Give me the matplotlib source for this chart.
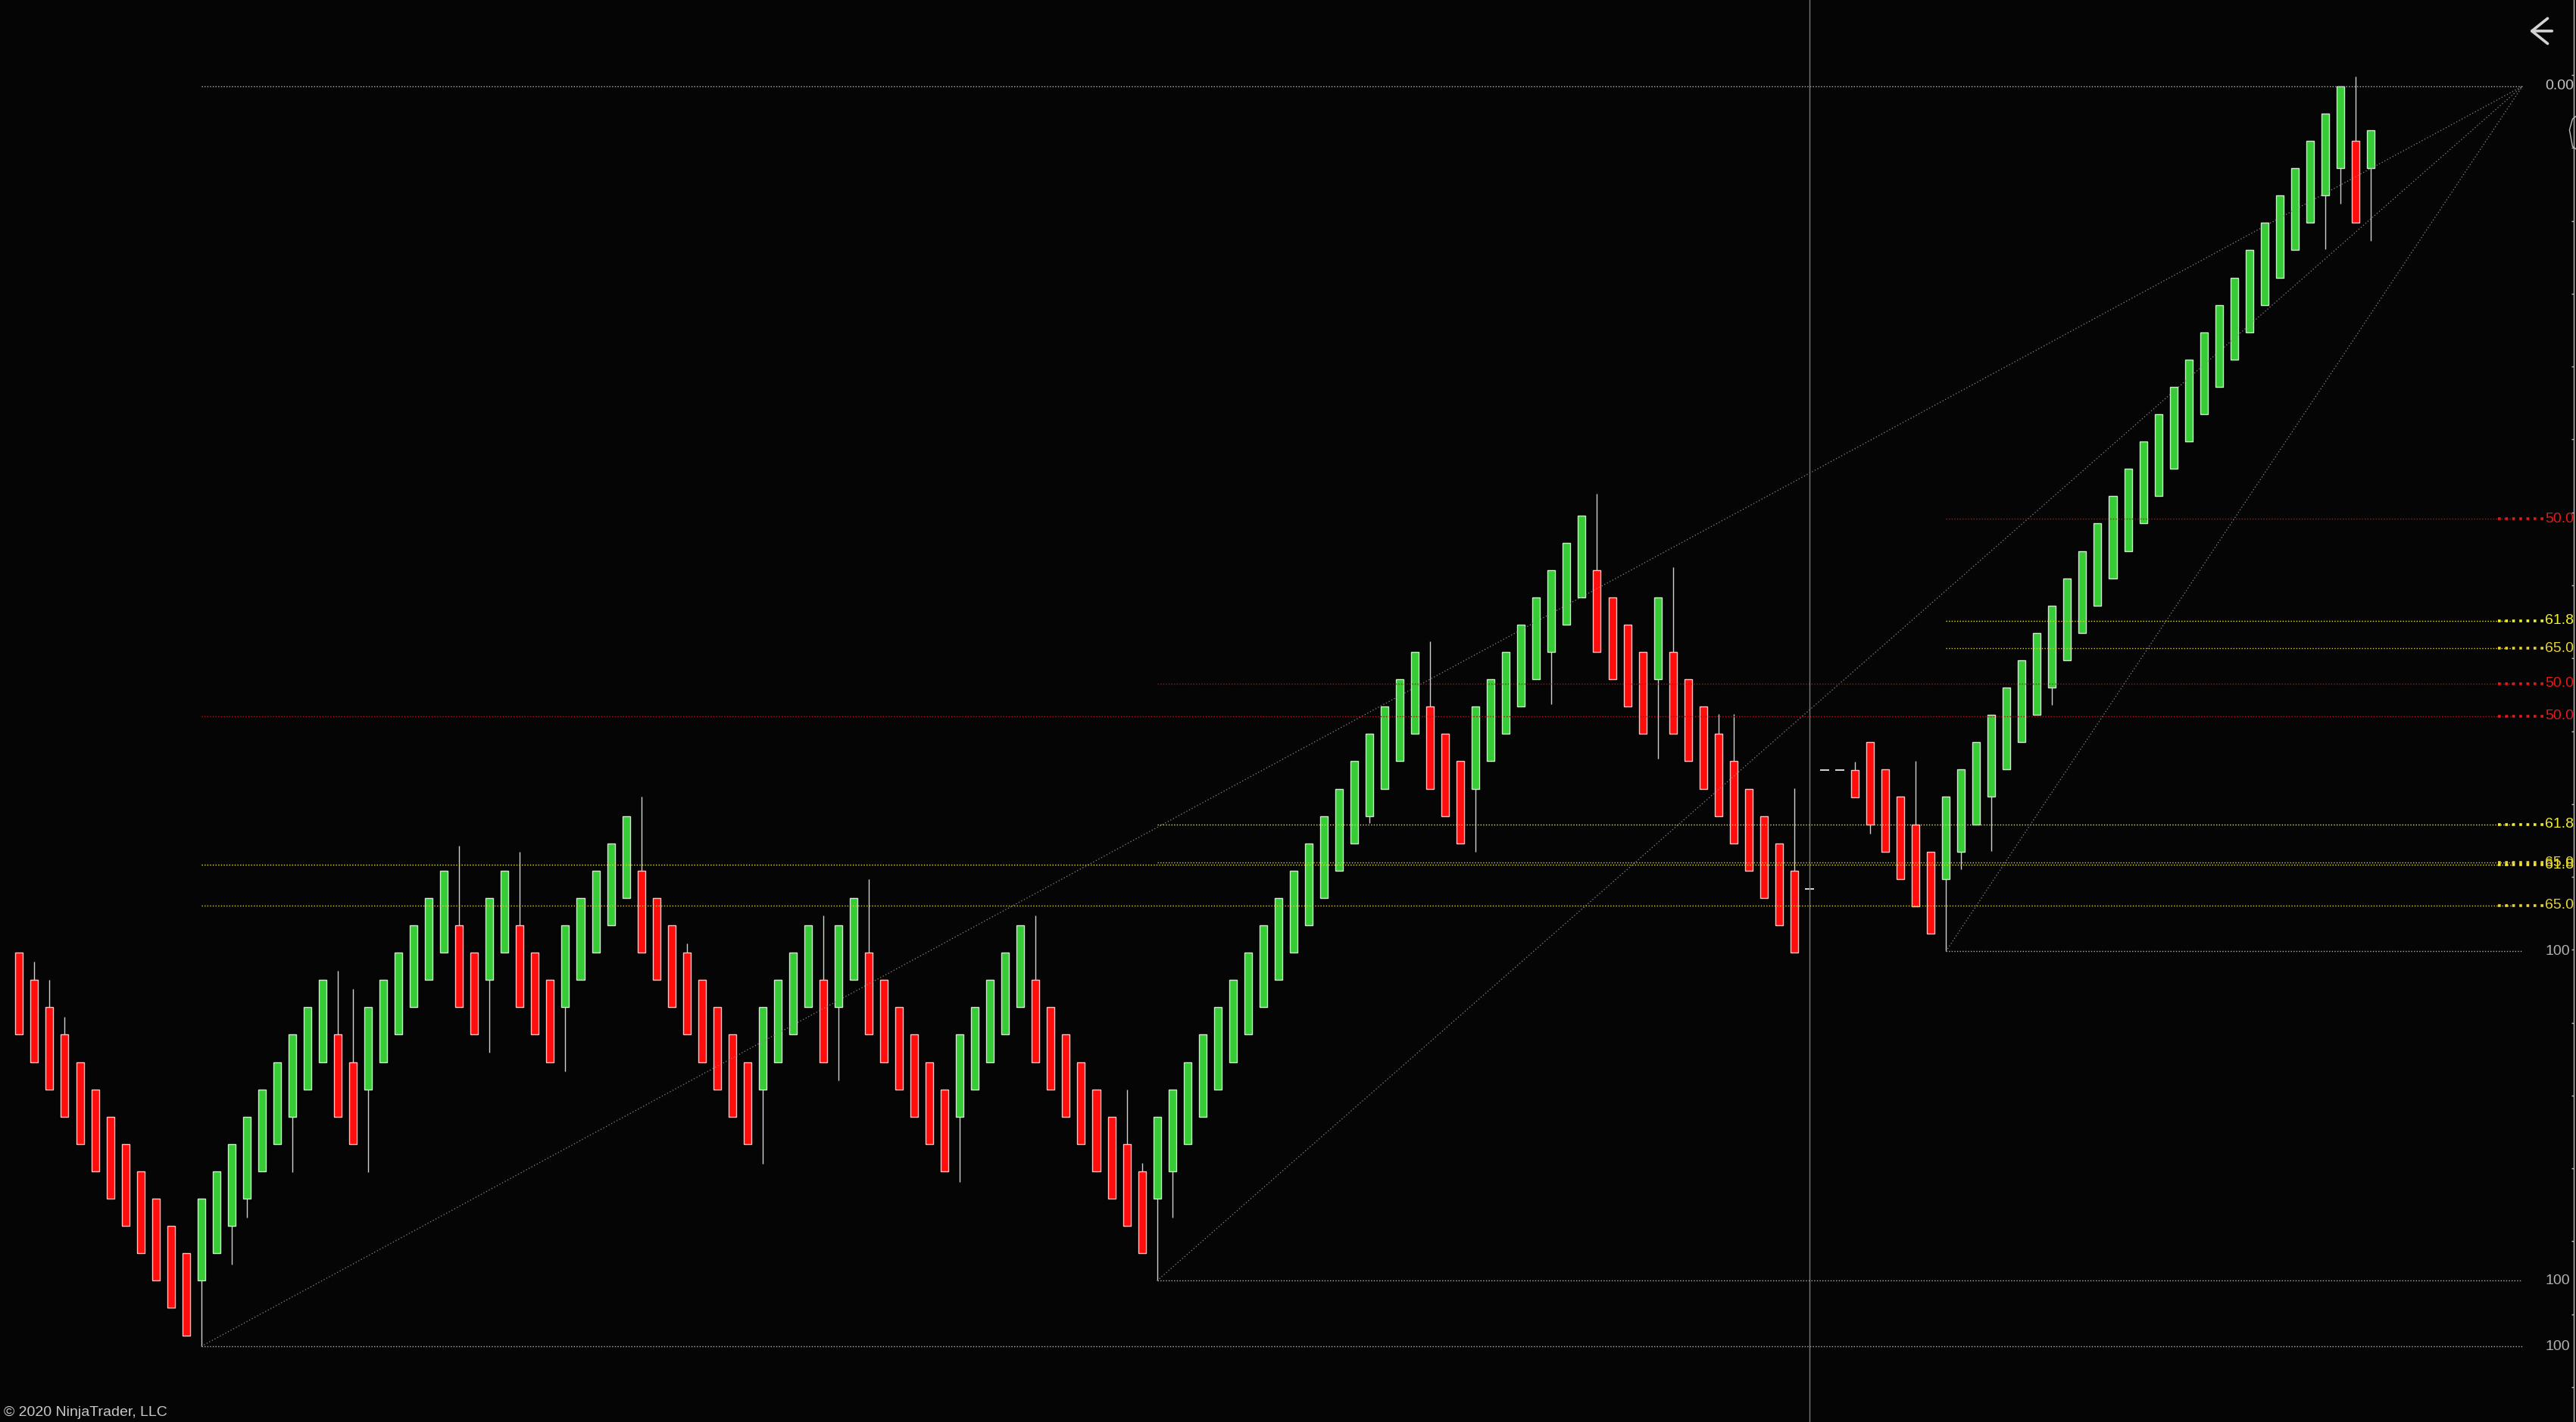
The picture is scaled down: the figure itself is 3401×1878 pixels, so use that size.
import numpy as np
import matplotlib
matplotlib.use("Agg")
import matplotlib.pyplot as plt

# Briques (renko) : ouverture / clôture en niveaux de prix, barre n° 1..156
opens = [14, 13, 12, 11, 10, 9, 8, 7, 6, 5, 4, 3,
         2, 3, 4, 5, 6, 7, 8, 9, 10,
         11, 10,
         9, 10, 11, 12, 13, 14,
         15, 14, 13, 14, 15, 14, 13,
         12, 13, 14, 15, 16,
         17, 16, 15, 14, 13, 12, 11, 10,
         9, 10, 11, 12, 13, 12, 13,
         14, 13, 12, 11, 10, 9,
         8, 9, 10, 11, 12,
         13, 12, 11, 10, 9, 8, 7, 6,
         5, 6, 7, 8, 9, 10, 11, 12, 13, 14, 15, 16, 17, 18, 19, 20, 21, 22,
         23, 22, 21,
         20, 21, 22, 23, 24, 25, 26, 27,
         28, 27, 26, 25, 24,
         25, 24, 23, 22, 21, 20, 19, 18, 17,
         16.33, 20.68, 20.68, 20.68,
         21.7, 20.7, 19.7, 18.7, 17.7,
         16.7, 17.7, 18.7, 19.7, 20.7, 21.7, 22.7, 23.7, 24.7, 25.7, 26.7, 27.7, 28.7,
         29.7, 30.7, 31.7, 32.7, 33.7, 34.7, 35.7, 36.7, 37.7, 38.7, 39.7, 40.7, 41.7, 42.7,
         43.7, 42.7]
closes = [11, 10, 9, 8, 7, 6, 5, 4, 3, 2, 1, 0,
          5, 6, 7, 8, 9, 10, 11, 12, 13,
          8, 7,
          12, 13, 14, 15, 16, 17,
          12, 11, 16, 17, 12, 11, 10,
          15, 16, 17, 18, 19,
          14, 13, 12, 11, 10, 9, 8, 7,
          12, 13, 14, 15, 10, 15, 16,
          11, 10, 9, 8, 7, 6,
          11, 12, 13, 14, 15,
          10, 9, 8, 7, 6, 5, 4, 3,
          8, 9, 10, 11, 12, 13, 14, 15, 16, 17, 18, 19, 20, 21, 22, 23, 24, 25,
          20, 19, 18,
          23, 24, 25, 26, 27, 28, 29, 30,
          25, 24, 23, 22, 27,
          22, 21, 20, 19, 18, 17, 16, 15, 14,
          16.33, 20.68, 20.68, 19.68,
          18.7, 17.7, 16.7, 15.7, 14.7,
          19.7, 20.7, 21.7, 22.7, 23.7, 24.7, 25.7, 26.7, 27.7, 28.7, 29.7, 30.7, 31.7,
          32.7, 33.7, 34.7, 35.7, 36.7, 37.7, 38.7, 39.7, 40.7, 41.7, 42.7, 43.7, 44.7, 45.7,
          40.7, 44.08]

# mèches qui dépassent le corps
wick_top = {2: 13.68, 3: 13.0, 4: 11.64, 22: 13.34, 23: 12.67, 30: 17.9, 34: 17.7,
            42: 19.7, 45: 14.35, 54: 15.36, 57: 16.7, 68: 15.35, 74: 9.0, 75: 6.3,
            94: 25.4, 105: 30.8, 110: 28.1, 113: 22.74, 114: 22.74, 118: 20.03,
            122: 20.99, 126: 21.0, 155: 46.05}
wick_bottom = {13: -0.4, 15: 2.6, 16: 4.3, 19: 5.97, 24: 5.97, 32: 10.34, 37: 9.67,
               50: 6.29, 55: 9.33, 63: 5.6, 76: 2.0, 77: 4.3, 90: 18.73, 97: 17.7,
               102: 23.1, 109: 21.1, 123: 18.35, 128: 14.05, 129: 17.05, 131: 17.73,
               135: 23.07, 153: 39.75, 154: 41.4, 156: 40.05}

# Retracements de Fibonacci (ancre basse -> ancre haute commune)
fib_start_bar = [13, 76, 128]
fib_low = [-0.4, 2.0, 14.05]
fib_end_bar = 166
fib_high = 45.7
fib_ratios = [0.5, 0.618, 0.65]
fib_labels = ["50.0", "61.8", "65.0"]
fib_colors = ["#e41a1a", "#f2ef2a", "#e8d23a"]
fib_line_colors = ["#b01414", "#e6e23a", "#dccb48"]

# barre du curseur
crosshair_bar = 119

# ---------------------------------------------------------------
opens = np.array(opens, dtype=float)
closes = np.array(closes, dtype=float)
n = len(opens)
bars = np.arange(1, n + 1)
highs = np.maximum(opens, closes)
lows = np.minimum(opens, closes)
for b, v in wick_top.items():
    highs[b - 1] = max(highs[b - 1], v)
for b, v in wick_bottom.items():
    lows[b - 1] = min(lows[b - 1], v)

bg = "#050505"
fig = plt.figure(figsize=(34.01, 18.78), dpi=100, facecolor=bg)
ax = fig.add_axes([0, 0, 1, 1])
ax.set_facecolor(bg)
ax.set_xlim(-0.268, 169.53)
ax.set_ylim(-3.169, 48.853)
ax.axis("off")

up = closes > opens
down = closes < opens
flat = closes == opens

# mèches
ax.vlines(bars, lows, highs, color="#d0d0d0", lw=1.0, zorder=2)

# corps
w = 0.5
ax.bar(bars[up], (closes - opens)[up], bottom=opens[up], width=w,
       color="#36cc36", edgecolor="#cfe8cf", linewidth=1.0, zorder=3)
ax.bar(bars[down], (opens - closes)[down], bottom=closes[down], width=w,
       color="#ff0c0c", edgecolor="#ffc0c0", linewidth=1.0, zorder=3)
ax.hlines(closes[flat], bars[flat] - 0.28, bars[flat] + 0.28, color="#d8d8d8", lw=1.4, zorder=3)

lab_kw = dict(fontsize=14, family="Liberation Sans", va="center", ha="left", zorder=6)
label_x = 167.5

# lignes de Fibonacci
dots = (0, (1, 1.6))
# ligne 0 % commune, tracée une fois depuis l'ancre la plus à gauche
ax.plot([min(fib_start_bar), fib_end_bar], [fib_high, fib_high], color="#b0b0b0",
        lw=1.0, ls=dots, zorder=4)
ax.text(label_x, fib_high, "0.00", color="#c4c4c4", **lab_kw)

for s, lo in zip(fib_start_bar, fib_low):
    rng = fib_high - lo
    ax.plot([s, fib_end_bar], [lo, lo], color="#b0b0b0", lw=1.0, ls=dots, zorder=4)
    ax.text(label_x, lo, "100", color="#b0b0b0", **lab_kw)
    # diagonale
    ax.plot([s, fib_end_bar], [lo, fib_high], color="#8c8c8c", lw=0.9, ls=(0, (1, 2.2)), zorder=4)
    for r, lab, c, lc in zip(fib_ratios, fib_labels, fib_colors, fib_line_colors):
        y = fib_high - r * rng
        ax.plot([s, fib_end_bar - 0.6], [y, y], color=lc, lw=1.0, ls=dots, zorder=4)
        ax.plot([fib_end_bar - 1.6, fib_end_bar + 1.4], [y, y], color=c, lw=2.6,
                ls=(0, (1, 1.6)), dash_capstyle="butt", zorder=5)
        ax.text(label_x, y, lab, color=c, **lab_kw)

# curseur vertical
ax.axvline(crosshair_bar, color="#7a7a7a", lw=1.0, zorder=5)

# bord de l'échelle de prix
ax.axvline(169.38, color="#bdbdbd", lw=1.0, zorder=5)
tick_levels = np.arange(46.11, -3.2, -2.667)
ax.hlines(tick_levels, 169.22, 169.38, color="#bdbdbd", lw=1.0, zorder=5)
ax.plot([169.53, 169.3, 169.1, 169.3, 169.53], [44.6, 44.5, 44.1, 43.5, 43.4],
        color="#bdbdbd", lw=1.0, zorder=5)

# flèche en haut à droite
fig.patches.append(matplotlib.patches.FancyArrowPatch(
    (0.9915, 0.9782), (0.9812, 0.9782), transform=fig.transFigure,
    arrowstyle="->,head_length=5,head_width=4", lw=2.6, color="#d4d4d4",
    mutation_scale=3))

fig.text(0.0015, 0.0042, "\u00a9 2020 NinjaTrader, LLC", color="#c8c8c8",
         fontsize=14, family="Liberation Sans", va="baseline", ha="left")

fig.savefig("out.png", dpi=100, facecolor=bg)
